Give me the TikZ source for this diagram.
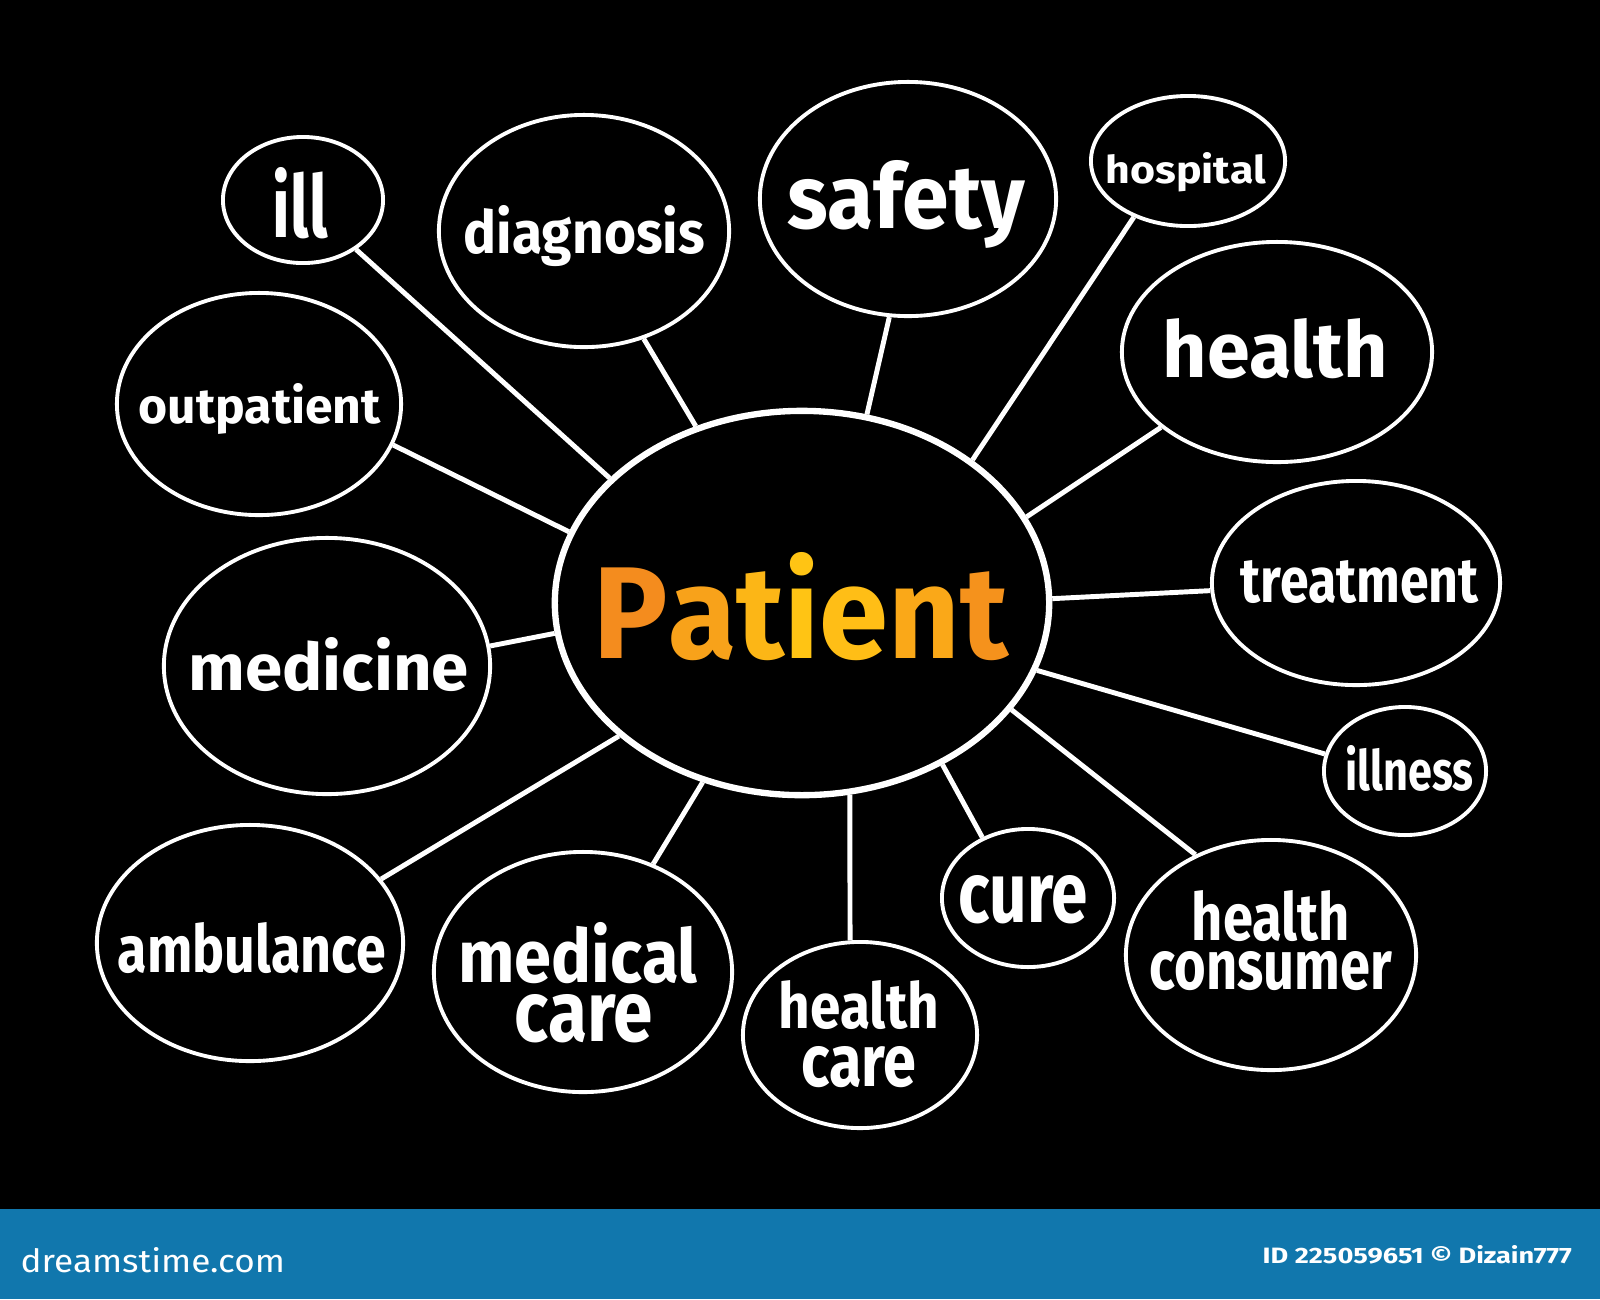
\documentclass[tikz,border=0pt]{standalone}
\usepackage{fontspec}
\setmainfont{Fira Sans}
\usetikzlibrary{shapes.geometric}
\definecolor{barblue}{RGB}{17,119,173}
\definecolor{pcA}{RGB}{244,140,30}
\definecolor{pcB}{RGB}{248,162,26}
\definecolor{pcC}{RGB}{252,182,22}
\definecolor{pcD}{RGB}{255,196,20}
\definecolor{pcE}{RGB}{255,190,22}
\definecolor{pcF}{RGB}{250,168,24}
\definecolor{pcG}{RGB}{245,146,28}
\newcommand{\twoline}[3]{{\fontsize{1pt}{1pt}\selectfont\begin{tabular}[t]{@{}c@{}}#1\\[#3]#2\end{tabular}}}
\begin{document}
\begin{tikzpicture}[x=0.01cm, y=-0.01cm,
  bub/.style={ellipse, draw=white, line width=1.1pt, inner sep=0pt},
  sz/.style 2 args={minimum width=#1*0.02cm, minimum height=#2*0.02cm},
  lbl/.style={text=white, inner sep=0pt, anchor=base west, font=\bfseries},
  lblc/.style={text=white, inner sep=0pt, anchor=base, font=\bfseries},
  link/.style={draw=white, line width=1.4pt}]
\useasboundingbox (0,0) rectangle (1600,1299);
\fill[black] (0,0) rectangle (1600,1209);
\fill[barblue] (0,1209) rectangle (1600,1299);

% bubbles
\node[bub, sz={247}{192}, line width=1.8pt] (patient) at (802,603) {};
\node[bub, sz={80}{63}] (ill) at (303,200) {};
\node[bub, sz={145}{116}] (diagnosis) at (584,231) {};
\node[bub, sz={148}{117}] (safety) at (908,199) {};
\node[bub, sz={97}{65}] (hospital) at (1188,161) {};
\node[bub, sz={155}{110}] (health) at (1277,352) {};
\node[bub, sz={144}{102}] (treatment) at (1356,583) {};
\node[bub, sz={81}{64}] (illness) at (1405,771) {};
\node[bub, sz={145}{115}] (consumer) at (1271,955) {};
\node[bub, sz={86}{69}] (cure) at (1028,898) {};
\node[bub, sz={117}{93}] (healthcare) at (860,1035) {};
\node[bub, sz={149}{120}] (medcare) at (583,972) {};
\node[bub, sz={153}{118}] (ambulance) at (250,943) {};
\node[bub, sz={163}{128}] (medicine) at (327,666) {};
\node[bub, sz={142}{111}] (outpatient) at (259,404) {};

% connectors
\draw[link] (ill.-43) -- (patient.147);
\draw[link] (outpatient.-17) -- (patient.163);
\draw[link] (medicine.7) -- (patient.187);
\draw[link] (ambulance.26) -- (patient.216);
\draw[link] (medcare.57) -- (patient.241);
\draw[link] (healthcare.96) -- (patient.284);
\draw[link] (cure.127) -- (patient.311);
\draw[link] (consumer.127) -- (patient.333);
\draw[link] (illness.168) -- (patient.344);
\draw[link] (treatment.183) -- (patient.1);
\draw[link] (health.213) -- (patient.21);
\draw[link] (hospital.226) -- (patient.40);
\draw[link] (safety.261) -- (patient.71);
\draw[link] (diagnosis.299) -- (patient.121);

% labels
\node[lbl] (tPatient) at (593,658) {\resizebox{4.14cm}{1.06cm}{\textcolor{pcA}{P}\textcolor{pcB}{a}\textcolor{pcC}{t}\textcolor{pcD}{i}\textcolor{pcE}{e}\textcolor{pcF}{n}\textcolor{pcG}{t}}};
\node[lbl] (tIll) at (272,237) {\resizebox{0.55cm}{0.70cm}{ill}};
\node[lbl] (tDiagnosis) at (463,253) {\resizebox{2.41cm}{0.48cm}{diagnosis}};
\node[lbl] (tSafety) at (787,228) {\resizebox{2.37cm}{0.68cm}{safety}};
\node[lbl] (tHospital) at (1105,183) {\resizebox{1.60cm}{0.31cm}{hospital}};
\node[lbl] (tHealth) at (1162,377) {\resizebox{2.25cm}{0.59cm}{health}};
\node[lbl] (tTreatment) at (1240,602) {\resizebox{2.38cm}{0.42cm}{treatment}};
\node[lbl] (tIllness) at (1345,790) {\resizebox{1.28cm}{0.45cm}{illness}};
\node[lbl] (tCure) at (958,922) {\resizebox{1.29cm}{0.47cm}{cure}};
\node[lblc] (tConsumer) at (1271,940) {\twoline{\resizebox{1.58cm}{0.50cm}{health}}{\resizebox{2.42cm}{0.38cm}{consumer}}{0.107cm}};
\node[lblc] (tMedCare) at (578,982) {\twoline{\resizebox{2.39cm}{0.60cm}{medical}}{\hspace*{0.12cm}\resizebox{1.38cm}{0.47cm}{care}}{0.118cm}};
\node[lblc] (tHealthCare) at (859,1028) {\twoline{\resizebox{1.60cm}{0.48cm}{health}}{\resizebox{1.15cm}{0.40cm}{care}}{0.177cm}};
\node[lbl] (tOutpatient) at (138,423) {\resizebox{2.42cm}{0.40cm}{outpatient}};
\node[lbl] (tMedicine) at (188,690) {\resizebox{2.80cm}{0.53cm}{medicine}};
\node[lbl] (tAmbulance) at (117,972) {\resizebox{2.68cm}{0.50cm}{ambulance}};

% footer
\node[lbl, font=\mdseries] (tDream) at (20,1272) {\resizebox{2.64cm}{0.25cm}{dreamstime.com}};
\node[lbl] (tId) at (1262,1263) {\resizebox{3.09cm}{0.18cm}{ID 225059651 © Dizain777}};
\end{tikzpicture}
\end{document}
